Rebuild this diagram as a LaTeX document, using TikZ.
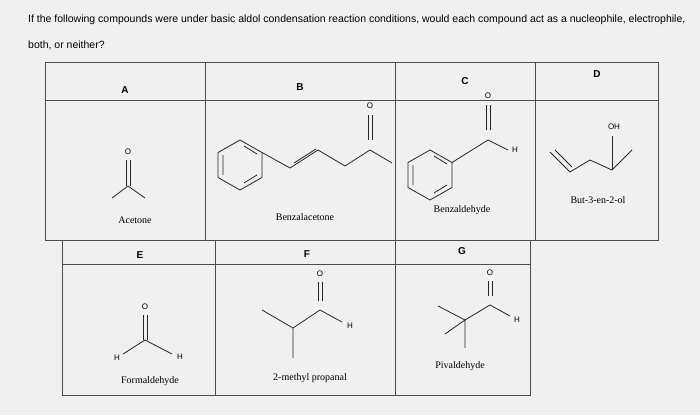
\documentclass[tikz,border=0pt]{standalone}
\usepackage{fontspec}
\setmainfont{Liberation Serif}
\newfontfamily\qsans{Liberation Sans}
\begin{document}
\begin{tikzpicture}[x=1pt,y=-1pt,
  bond/.style={line width=0.8pt,black!85},
  grid/.style={line width=0.7pt,black!70},
  hdr/.style={font=\qsans\bfseries\normalsize},
  lbl/.style={font=\normalsize},
  atom/.style={font=\qsans\footnotesize,inner sep=1pt}]
\useasboundingbox (0,0) rectangle (700,415);
\clip (0,0) rectangle (700,415);
\fill[white!94!black] (0,0) rectangle (700,415);
\node[anchor=west,font=\qsans\fontsize{10.5}{12}\selectfont,inner sep=0] (q1) at (28,20) {If the following compounds were under basic aldol condensation reaction conditions, would each compound act as a nucleophile, electrophile,};
\node[anchor=west,font=\qsans\fontsize{10.5}{12}\selectfont,inner sep=0] (q2) at (28,45) {both, or neither?};
% top table
\draw[grid] (45,62) rectangle (658,240);
\draw[grid] (45,100) -- (658,100);
\foreach \x in {205,395,535} \draw[grid] (\x,62) -- (\x,240);
\node[hdr] (hA) at (125,90) {A};
\node[hdr] (hB) at (300,87) {B};
\node[hdr] (hC) at (465,81) {C};
\node[hdr] (hD) at (597,74) {D};
% bottom table
\fill[white!94!black] (62,240) rectangle (530,395);
\draw[grid] (62,240) rectangle (530,395);
\draw[grid] (62,264) -- (530,264);
\foreach \x in {215,395} \draw[grid] (\x,240) -- (\x,395);
\node[hdr] (hE) at (140,255) {E};
\node[hdr] (hF) at (307,254) {F};
\node[hdr] (hG) at (462,251) {G};
% Acetone
\node[atom] (aO) at (128,152) {O};
\draw[bond] (126,160) -- (126,186) (130,160) -- (130,186);
\draw[bond] (112,198) -- (128,186) -- (145,198);
\node[lbl] (la) at (135,220) {Acetone};
% Benzalacetone
\draw[bond] (240,140) -- (262,152.5) -- (262,177.5) -- (240,190) -- (218,177.5) -- (218,152.5) -- cycle;
\draw[bond] (244,146) -- (257,154) (257,175) -- (244,183) (223,175) -- (223,155);
\draw[bond] (262,152.5) -- (290,168) -- (318,150) -- (345,166) -- (370,150) -- (392,163);
\draw[bond] (294,163) -- (316,149);
\draw[bond] (368,140) -- (368,115) (372,140) -- (372,115);
\node[atom] (bO) at (370,106) {O};
\node[lbl] (lb) at (305,217) {Benzalacetone};
% Benzaldehyde
\draw[bond] (430,150) -- (452,162.5) -- (452,187.5) -- (430,200) -- (408,187.5) -- (408,162.5) -- cycle;
\draw[bond] (434,156) -- (447,164) (447,185) -- (434,193) (413,185) -- (413,165);
\draw[bond] (452,162.5) -- (488,140) -- (508,150);
\draw[bond] (486,130) -- (486,105) (490,130) -- (490,105);
\node[atom] (cO) at (488,96) {O};
\node[atom] (cH) at (515,150) {H};
\node[lbl] (lc) at (462,210) {Benzaldehyde};
% But-3-en-2-ol
\draw[bond] (550,152) -- (570,172) -- (590,160) -- (612,170) -- (632,150);
\draw[bond] (555,150) -- (572,167);
\draw[bond] (612,170) -- (612,136);
\node[atom] (dOH) at (614,127) {OH};
\node[lbl] (ld) at (598,200) {But-3-en-2-ol};
% Formaldehyde
\node[atom] (eO) at (145,307) {O};
\draw[bond] (143,315) -- (143,340) (147,315) -- (147,340);
\draw[bond] (123,354) -- (145,340) -- (172,354);
\node[atom] (eH1) at (117,358) {H};
\node[atom] (eH2) at (180,357) {H};
\node[lbl] (le) at (150,381) {Formaldehyde};
% 2-methyl propanal
\draw[bond] (262,310) -- (293,328) -- (293,358);
\draw[bond] (293,328) -- (320,310) -- (342,322);
\draw[bond] (318,301) -- (318,282) (322,301) -- (322,282);
\node[atom] (fO) at (320,274) {O};
\node[atom] (fH) at (350,326) {H};
\node[lbl] (lf) at (310,378) {2-methyl propanal};
% Pivaldehyde
\draw[bond] (438,306) -- (465,320) -- (490,305) -- (510,316);
\draw[bond] (465,320) -- (465,348) (465,320) -- (445,334);
\draw[bond] (488,296) -- (488,281) (492,296) -- (492,281);
\node[atom] (gO) at (490,273) {O};
\node[atom] (gH) at (517,320) {H};
\node[lbl] (lg) at (460,366) {Pivaldehyde};
\end{tikzpicture}
\end{document}
